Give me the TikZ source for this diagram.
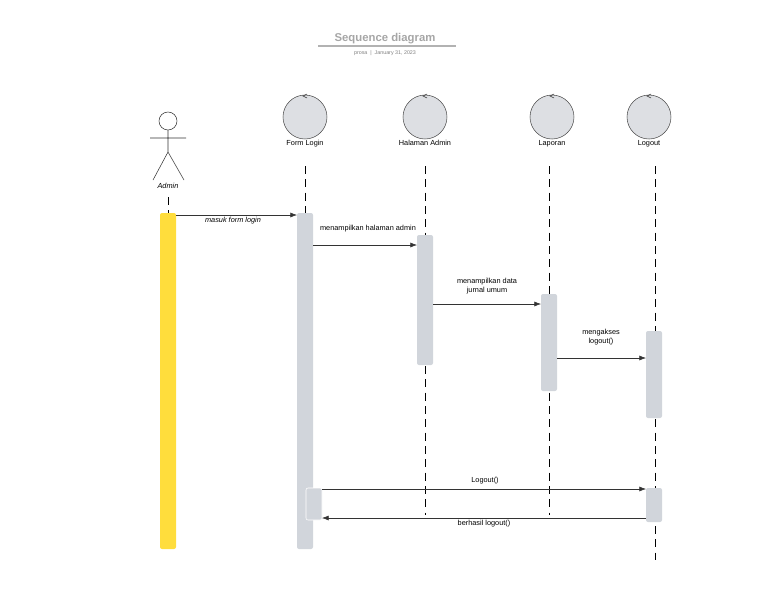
\documentclass[tikz,border=0pt]{standalone}
\usepackage{fontspec}
\setmainfont{Liberation Sans}
\usetikzlibrary{arrows.meta}
\definecolor{actgray}{HTML}{D1D5DB}
\definecolor{objgray}{HTML}{DDDFE3}
\definecolor{actyel}{HTML}{FFDD3C}
\begin{document}
\begin{tikzpicture}[x=0.75pt,y=-0.75pt,
 ctrl/.style={circle,draw=black!70,fill=objgray,minimum size=33pt,inner sep=0pt},
 lbl/.style={font=\fontsize{5.5}{6.5}\selectfont,align=center},
 life/.style={draw=black,dash pattern=on 6pt off 4pt},
 act/.style={fill=actgray,rounded corners=1.5pt,draw=none},
 msg/.style={draw=black!80,-{Latex[length=5pt]}}]
\useasboundingbox (0,0) rectangle (768,594);
\node[font=\bfseries\fontsize{8.5}{10}\selectfont,text=gray!70] (title) at (385,39) {Sequence diagram};
\draw[gray!60,line width=0.8pt] (318,46) -- (456,46);
\node[font=\fontsize{4}{5}\selectfont,text=gray] (sub) at (385,53) {prosa \ | \ January 31, 2023};
% actor
\node[circle,draw=black!80,minimum size=13.5pt,inner sep=0pt] (head) at (168,121) {};
\draw[black!80] (168,130) -- (168,152) (150,138) -- (186,138) (153,180) -- (168,152) -- (184,180);
\node[lbl,font=\itshape\fontsize{5.5}{6.5}\selectfont,anchor=base] (admin) at (168,188) {Admin};
\draw[life] (168,197) -- (168,213);
\fill[actyel,rounded corners=1.5pt] (160,213) rectangle (176,549);
% objects
\foreach \n/\x/\lx/\t/\e in {fl/305/305/Form Login/549, ha/425/425/Halaman Admin/515, la/552/549/Laporan/515, lo/649/655/Logout/560}{
 \node[ctrl] (\n) at (\x,117) {};
 \draw[black!80] (\x+2,94)--(\x-2,96)--(\x+2,98);
 \node[lbl,anchor=base] (\n l) at (\x,145) {\t};
 \draw[life] (\lx,166) -- (\lx,\e);
}
\draw[act] (297,213) rectangle (313,549);
\draw[act] (417,235) rectangle (433,365);
\draw[act] (541,294) rectangle (557,391);
\draw[act] (646,331) rectangle (662,418);
\draw[act] (646,488) rectangle (662,522);
\draw[act,draw=white] (306,488) rectangle (322,520);
\coordinate (a1) at (176,215); \coordinate (b1) at (297,215);
\draw[msg] (a1) -- (b1);
\node[lbl,font=\itshape\fontsize{5.5}{6.5}\selectfont] at (233,221) {masuk form login};
\coordinate (a2) at (313,245); \coordinate (b2) at (417,245);
\draw[msg] (a2) -- (b2);
\node[lbl] at (368,229) {menampilkan halaman admin};
\coordinate (a3) at (433,304); \coordinate (b3) at (541,304);
\draw[msg] (a3) -- (b3);
\node[lbl] at (487,286) {menampilkan data\\jurnal umum};
\coordinate (a4) at (557,358); \coordinate (b4) at (646,358);
\draw[msg] (a4) -- (b4);
\node[lbl] at (601,337) {mengakses\\logout()};
\coordinate (a5) at (322,489); \coordinate (b5) at (646,489);
\draw[msg] (a5) -- (b5);
\node[lbl] at (485,481) {Logout()};
\coordinate (a6) at (646,518); \coordinate (b6) at (322,518);
\draw[msg] (a6) -- (b6);
\node[lbl] at (484,524) {berhasil logout()};
\end{tikzpicture}
\end{document}
